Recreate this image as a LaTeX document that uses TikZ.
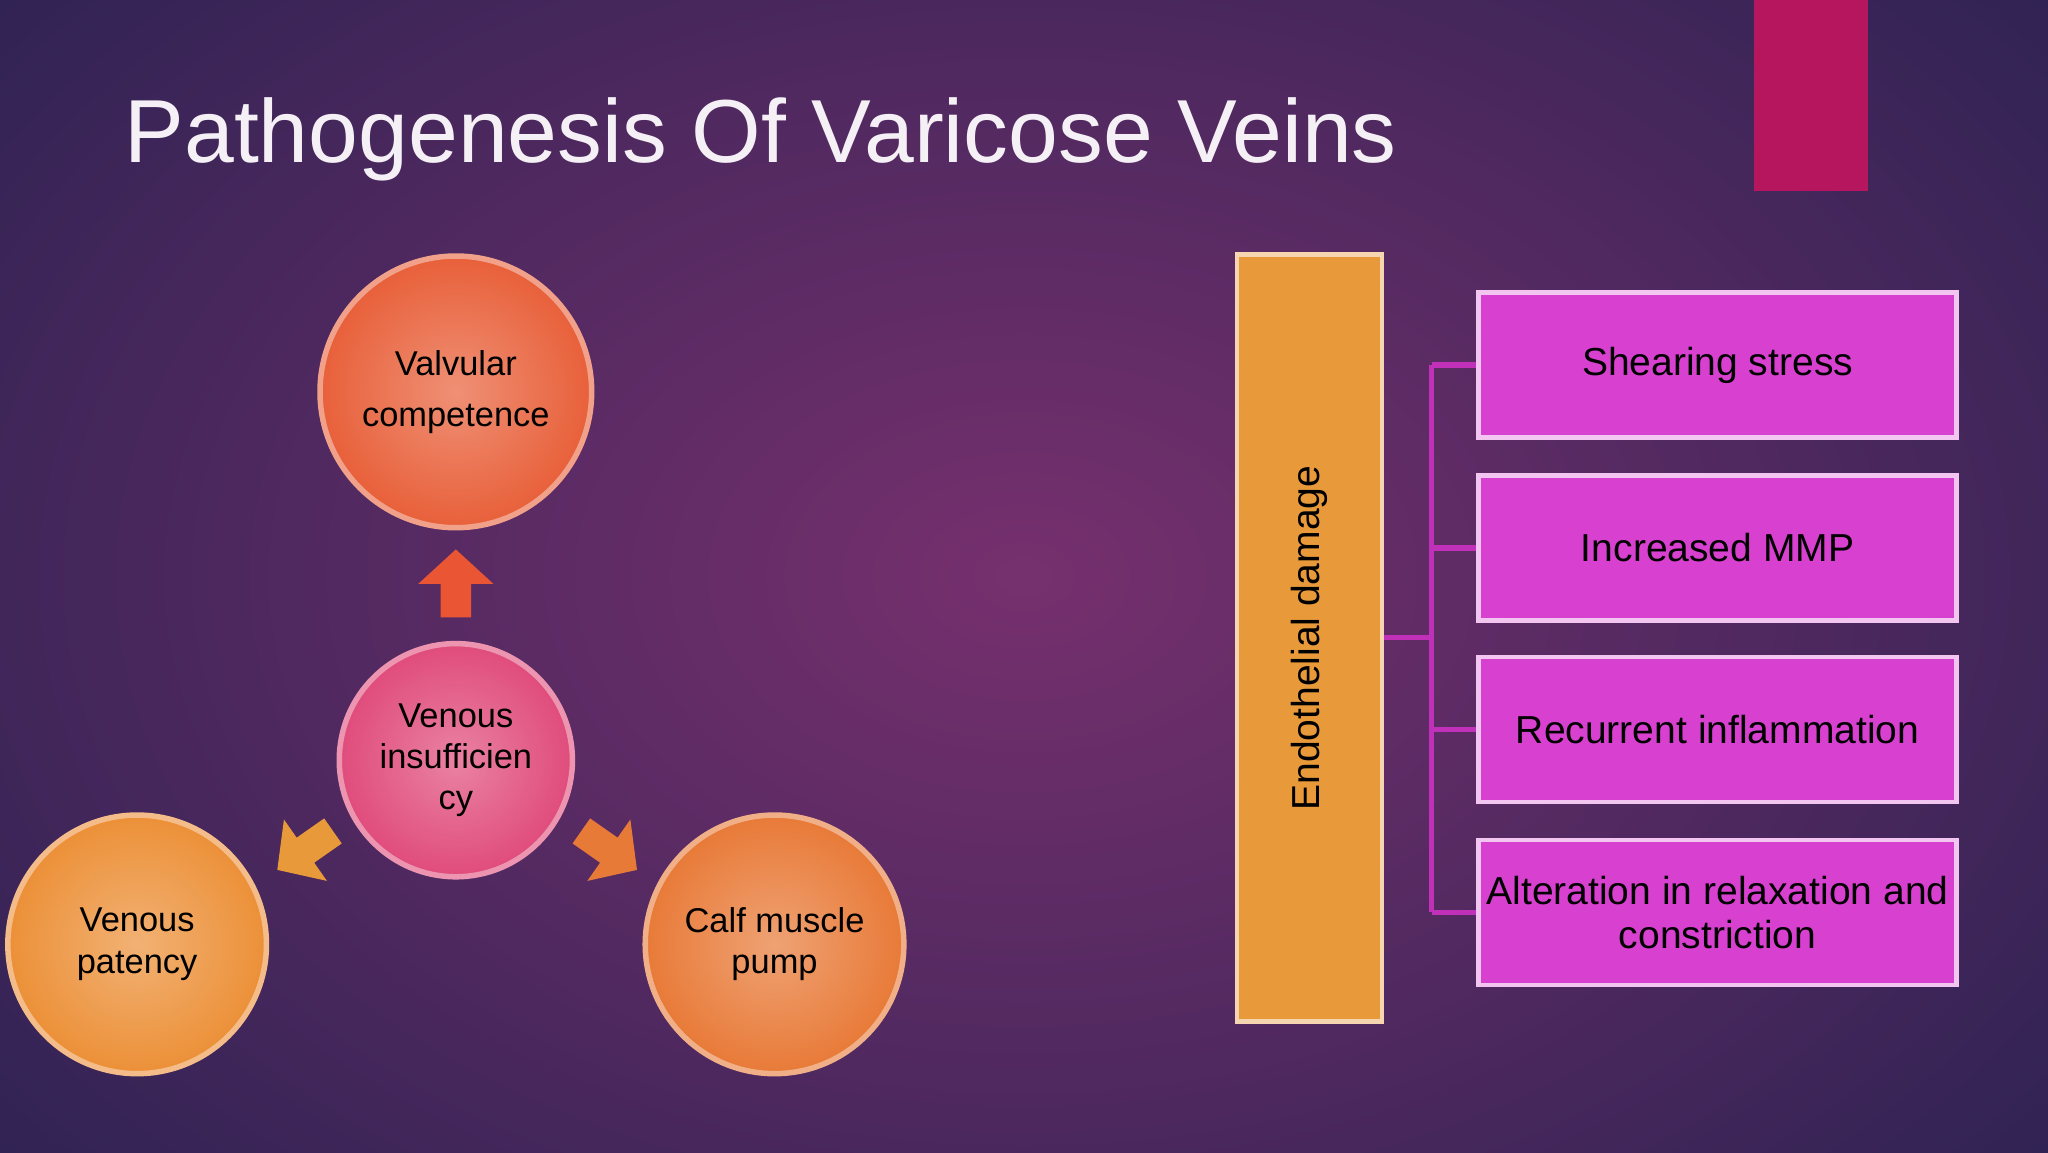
\documentclass[tikz,border=0pt]{standalone}
\usepackage{fontspec}
\setmainfont{Liberation Sans}
\usetikzlibrary{shapes.geometric,shapes.arrows,calc}
\definecolor{bgin}{HTML}{76306E}
\definecolor{bgout}{HTML}{2C2252}
\definecolor{mag}{HTML}{B5165E}
\definecolor{boxc}{HTML}{D840D0}
\definecolor{linec}{HTML}{C030B8}
\definecolor{orng}{HTML}{E8993A}
\tikzset{
  ball/.style={circle,draw=#1!60!white,line width=1.2pt,shading=radial,inner color=#1!70!white,outer color=#1,text=black,align=center,font=\fontsize{7.5}{9}\selectfont},
  effect/.style={draw=white!70!boxc,line width=1pt,fill=boxc,minimum width=3.66cm,minimum height=1.11cm,align=center,font=\fontsize{8.5}{9.5}\selectfont,text=black},
  arr/.style={single arrow,draw=none,fill=#1,minimum height=0.52cm,single arrow head extend=0.17cm,inner sep=0.11cm,single arrow tip angle=95}
}
\tikzset{conn/.style={draw=linec,line width=1.2pt}}
\begin{document}
\begin{tikzpicture}
\useasboundingbox (0,0) rectangle (15.68,-8.82);
\shade[inner color=bgin,outer color=bgout] (-3,3) rectangle (18.68,-11.82);
\clip (0,0) rectangle (15.68,-8.82);
\fill[mag] (13.43,0) rectangle (14.30,-1.46);
\node[anchor=west,text=white!93!bgin,font=\fontsize{19.5}{22}\selectfont] (title) at (0.83,-1.07) {Pathogenesis Of Varicose Veins};
\definecolor{c1}{HTML}{E8603A}
\definecolor{c2}{HTML}{E04C7C}
\definecolor{c3}{HTML}{EC9038}
\definecolor{c4}{HTML}{E87A38}
\node[ball=c1,minimum size=2.08cm] (valv) at (3.49,-3.00) {Valvular\\[2pt]competence};
\node[ball=c2,minimum size=1.72cm] (ins) at (3.49,-5.82) {Venous\\insufficien\\cy};
\node[ball=c3,minimum size=1.98cm] (pat) at (1.05,-7.23) {Venous\\patency};
\node[ball=c4,minimum size=1.98cm] (calf) at (5.93,-7.23) {Calf muscle\\pump};
\node[arr=c1!90!red,rotate=90] (a1) at (3.49,-4.52) {};
\node[arr=orng,rotate=215] (a2) at (2.38,-6.48) {};
\node[arr=c4,rotate=-35] (a3) at (4.62,-6.48) {};
\node[draw=white!60!orng,line width=1pt,fill=orng,minimum width=1.11cm,minimum height=5.87cm] (ed) at (10.025,-4.885) {};
\node[rotate=90,font=\fontsize{8.5}{10}\selectfont,text=black] at (ed.center) {Endothelial damage};
\node[effect] (e1) at (13.15,-2.795) {Shearing stress};
\node[effect] (e2) at (13.15,-4.195) {Increased MMP};
\node[effect] (e3) at (13.15,-5.585) {Recurrent inflammation};
\node[effect,inner sep=0pt] (e4) at (13.15,-6.985) {Alteration in relaxation and\\constriction};
\coordinate (hub) at (10.96,-4.88);
\draw[conn] (ed.east |- hub) -- (hub);
\draw[conn] (hub |- e1.west) -- (hub |- e4.west);
\foreach \e in {e1,e2,e3,e4} \draw[conn] (hub |- \e.west) -- (\e.west);
\end{tikzpicture}
\end{document}
